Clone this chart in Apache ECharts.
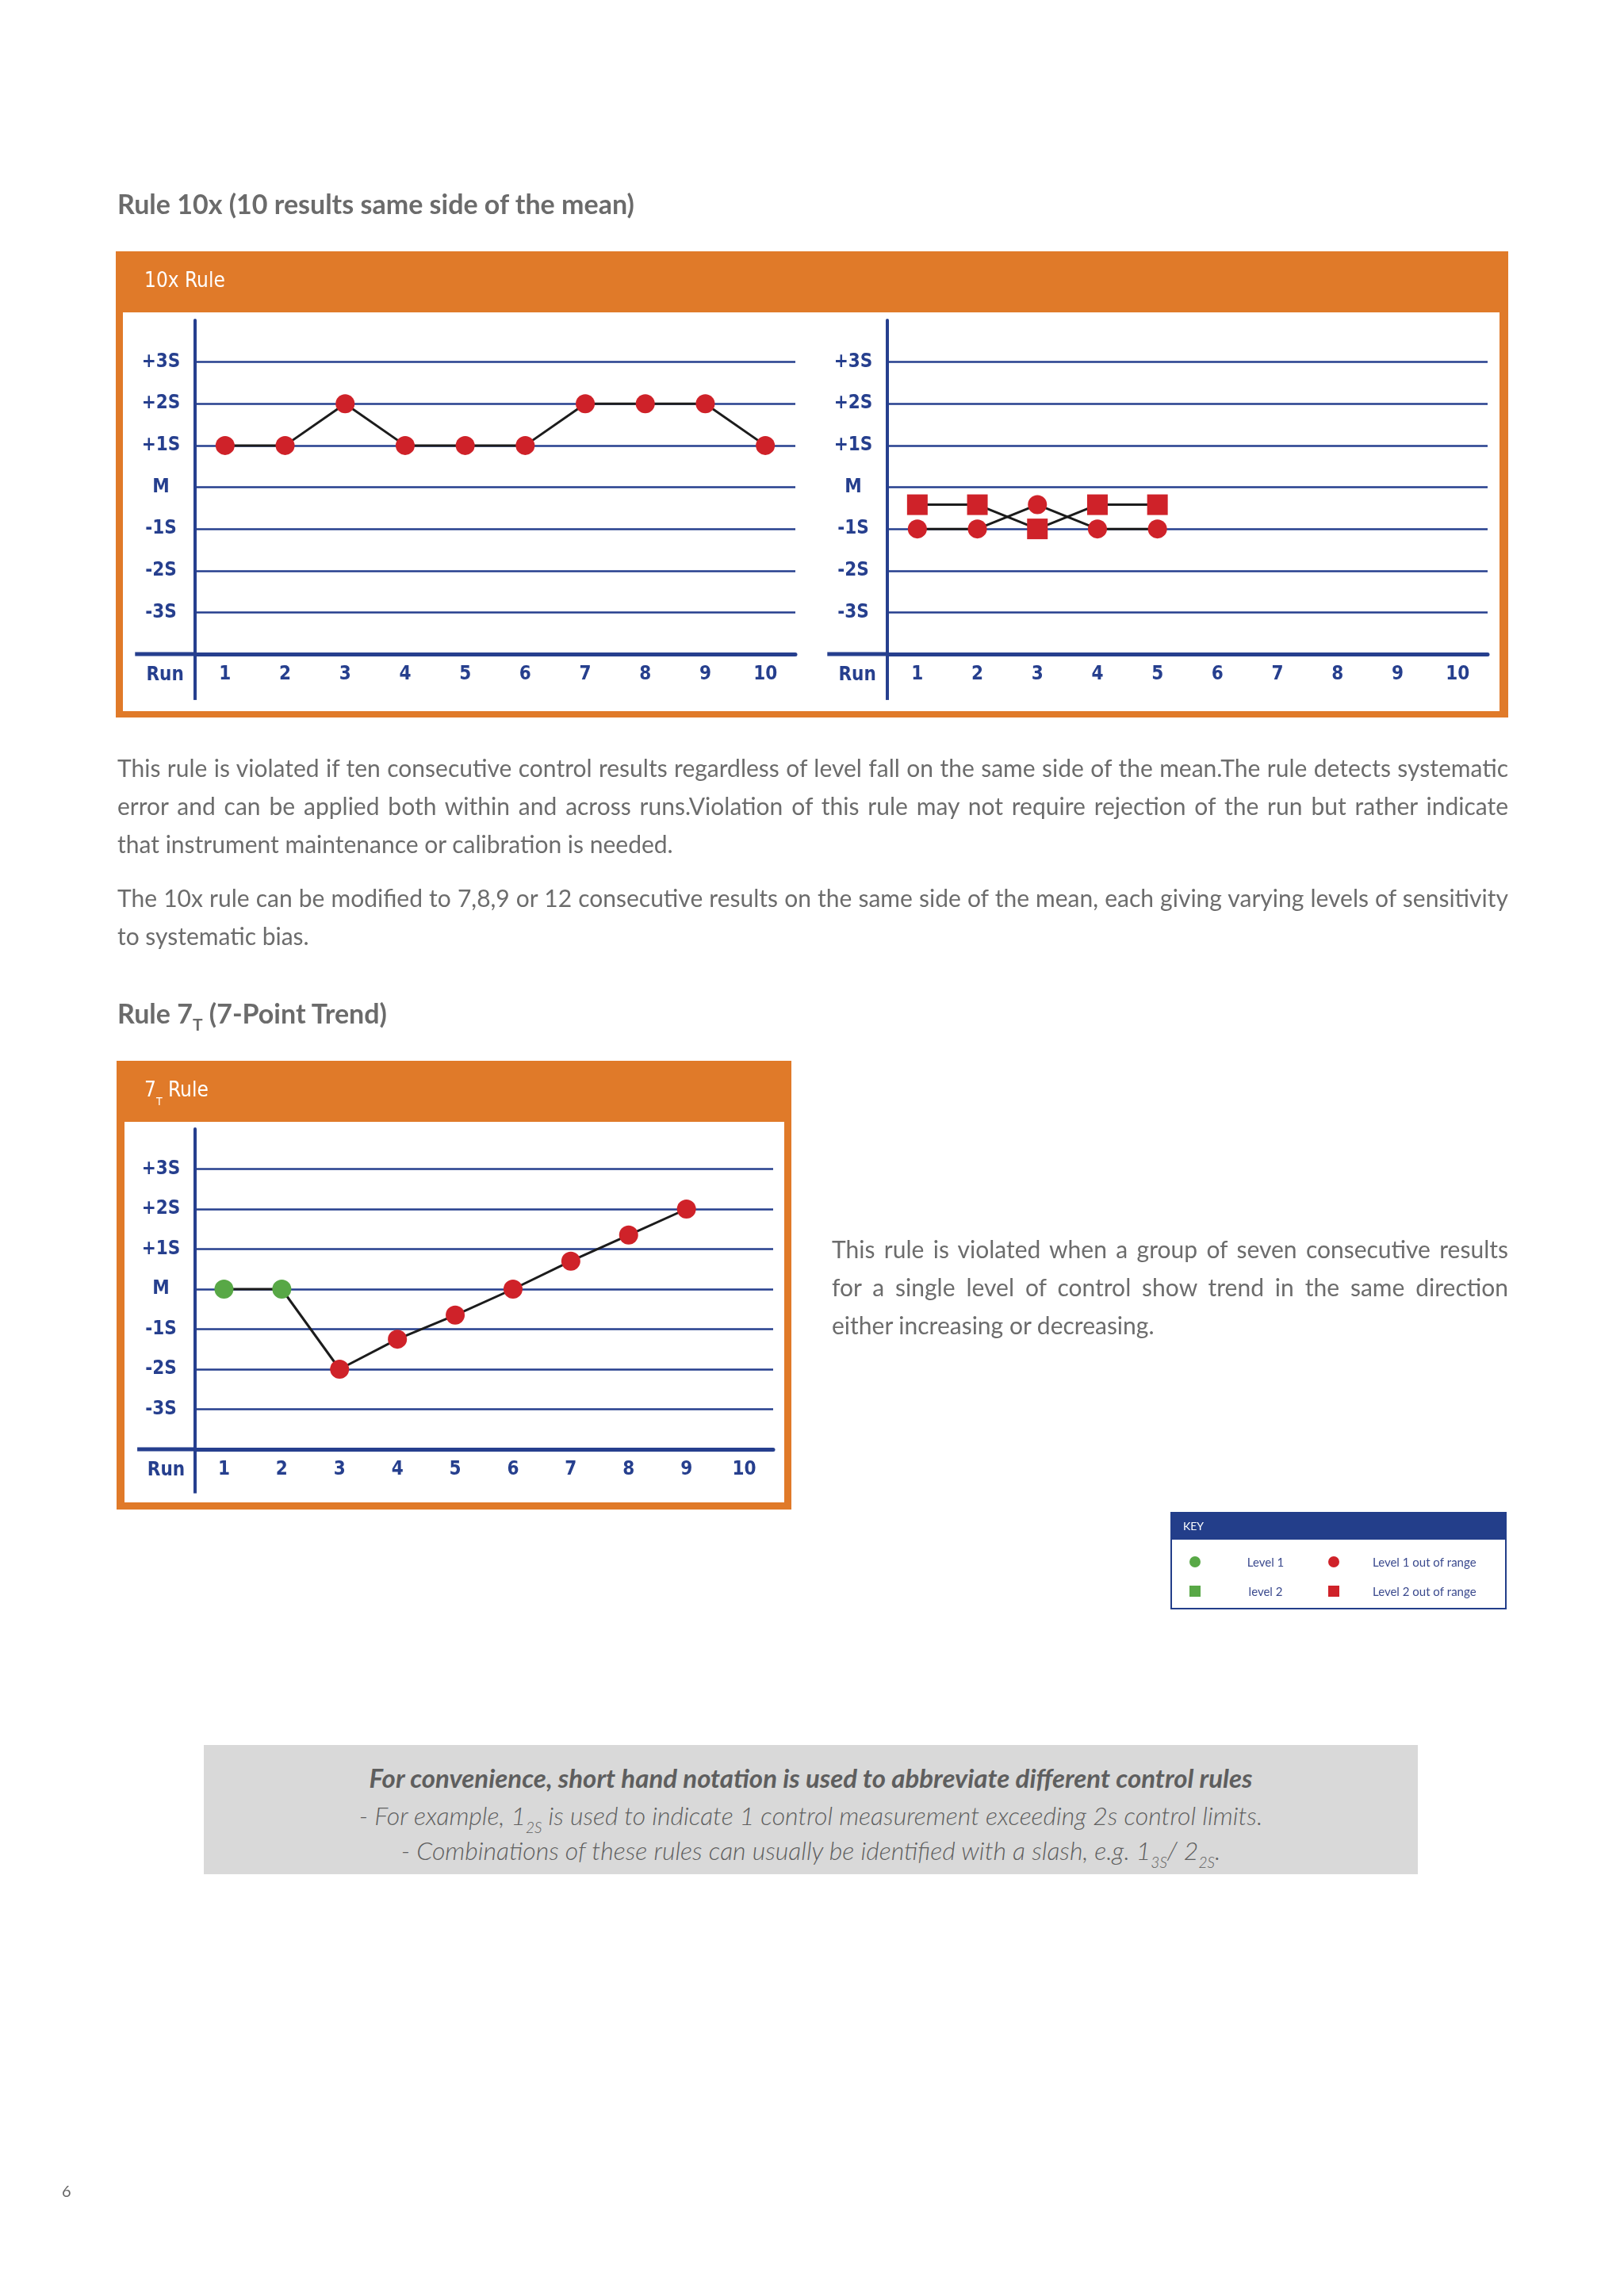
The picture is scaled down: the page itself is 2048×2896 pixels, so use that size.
<!DOCTYPE html>
<html><head><meta charset="utf-8">
<script src="https://cdn.jsdelivr.net/npm/echarts@6.0.0/dist/echarts.min.js"></script>
<style>
html,body{margin:0;padding:0;background:#fff;}
#page{position:relative;width:2048px;height:2896px;overflow:hidden;background:#fff;}
#chart{position:absolute;left:0;top:0;width:2048px;height:2896px;}
.t{position:absolute;white-space:nowrap;font-family:Lato,'Open Sans',sans-serif;color:#6e6e6e;}
.h{font-weight:700;font-size:34px;line-height:40px;color:#6b6b6b;}
.h sub{font-size:21px;vertical-align:-9px;line-height:0;}
.p{font-weight:400;font-size:30px;line-height:48px;color:#6c6c6c;}
.j{text-align:justify;text-align-last:justify;}
#grey{position:absolute;left:257px;top:2201px;width:1531px;height:163px;background:#d9d9d9;}
#grey div{position:absolute;left:0;width:1531px;text-align:center;font-family:Lato,'Open Sans',sans-serif;font-style:italic;line-height:40px;white-space:nowrap;}
#grey .b{font-weight:700;font-size:33px;color:#5e5e5e;}
#grey .l{font-weight:300;font-size:32px;color:#5f5f5f;}
#grey sub{font-size:19px;vertical-align:-10px;line-height:0;}
</style></head>
<body><div id="page">
<div id="chart"></div>

<div class="t h" style="left:148px;top:237px;">Rule 10x (10 results same side of the mean)</div>

<div class="t p j" style="left:148px;top:944px;width:1754px;">This rule is violated if ten consecutive control results regardless of level fall on the same side of the mean.The rule detects systematic</div>
<div class="t p j" style="left:148px;top:992px;width:1754px;">error and can be applied both within and across runs.Violation of this rule may not require rejection of the run but rather indicate</div>
<div class="t p" style="left:148px;top:1040px;">that instrument maintenance or calibration is needed.</div>

<div class="t p j" style="left:148px;top:1108px;width:1754px;">The 10x rule can be modified to 7,8,9 or 12 consecutive results on the same side of the mean, each giving varying levels of sensitivity</div>
<div class="t p" style="left:148px;top:1156px;">to systematic bias.</div>

<div class="t h" style="left:148px;top:1258px;">Rule 7<sub>T</sub> (7-Point Trend)</div>

<div class="t p j" style="left:1049px;top:1551px;width:853px;">This rule is violated when a group of seven consecutive results</div>
<div class="t p j" style="left:1049px;top:1599px;width:853px;">for a single level of control show trend in the same direction</div>
<div class="t p" style="left:1049px;top:1647px;">either increasing or decreasing.</div>

<div id="grey">
  <div class="b" style="top:21px;">For convenience, short hand notation is used to abbreviate different control rules</div>
  <div class="l" style="top:69px;">- For example, 1<sub>2S</sub> is used to indicate 1 control measurement exceeding 2s control limits.</div>
  <div class="l" style="top:113px;">- Combinations of these rules can usually be identified with a slash, e.g. 1<sub>3S</sub>/ 2<sub>2S</sub>.</div>
</div>

<div class="t" style="left:78px;top:2751px;font-size:20px;line-height:24px;color:#666;">6</div>
</div>

<script>
// ---------- data ----------
const runLabels = ['1','2','3','4','5','6','7','8','9','10'];
const sigmaValues = [3, 2, 1, 0, -1, -2, -3];
const sigmaLabels = ['+3S', '+2S', '+1S', 'M', '-1S', '-2S', '-3S'];
const rule10xLevel1 = [1, 1, 2, 1, 1, 1, 2, 2, 2, 1];
const rule10xRightLevel1 = [-1, -1, -0.42, -1, -1];
const rule10xRightLevel2 = [-0.42, -0.42, -1, -0.42, -0.42];
const trend7T = [0, 0, -2, -1.25, -0.65, 0, 0.7, 1.35, 2];
const trend7TInRange = [true, true, false, false, false, false, false, false, false];
const keyLabels = ['Level 1', 'level 2', 'Level 1 out of range', 'Level 2 out of range'];

// ---------- style ----------
const BLUE = '#263f8e', RED = '#cf2229', GREEN = '#58a846', ORANGE = '#e07a29', INK = '#1c1c1c';
const KEYBLUE = '#233e8a', KEYTEXT = '#3b4a8e';
const condFont = "'DejaVu Sans Condensed', 'DejaVu Sans', sans-serif";
const bodyFont = "Lato, 'Open Sans', sans-serif";

const chart = echarts.init(document.getElementById('chart'), null, {renderer: 'canvas'});

function yAxisCfg(gi) {
  return {
    gridIndex: gi, type: 'value', min: -4, max: 4, interval: 1,
    axisLine: {show: true, onZero: false, lineStyle: {color: BLUE, width: 4}},
    axisTick: {show: false},
    splitLine: {show: true, showMinLine: false, showMaxLine: false, lineStyle: {color: BLUE, width: 2.5}},
    axisLabel: {
      margin: 43, align: 'center', fontSize: 24, fontWeight: 'bold', fontFamily: condFont, color: BLUE,
      formatter: v => { const i = sigmaValues.indexOf(v); return i >= 0 ? sigmaLabels[i] : ''; }
    }
  };
}
function xAxisCfg(gi) {
  return {
    gridIndex: gi, type: 'category', data: runLabels, boundaryGap: true,
    axisLine: {show: true, onZero: false, lineStyle: {color: BLUE, width: 5}},
    axisTick: {show: false}, splitLine: {show: false},
    axisLabel: {interval: 0, margin: 14, fontSize: 24, fontWeight: 'bold', fontFamily: condFont, color: BLUE}
  };
}
const lineBase = {type: 'line', lineStyle: {color: INK, width: 3}, z: 3, animation: false, silent: true};

const option = {
  animation: false,
  grid: [
    {left: 246, top: 404, width: 757, height: 421},
    {left: 1119, top: 404, width: 757, height: 421},
    {left: 246, top: 1424, width: 729, height: 404}
  ],
  xAxis: [xAxisCfg(0), xAxisCfg(1), xAxisCfg(2)],
  yAxis: [yAxisCfg(0), yAxisCfg(1), yAxisCfg(2)],
  series: [
    Object.assign({}, lineBase, {name: 'Level 1 out of range', xAxisIndex: 0, yAxisIndex: 0,
      data: rule10xLevel1, symbol: 'circle', symbolSize: 24, itemStyle: {color: RED}}),
    Object.assign({}, lineBase, {name: 'Level 1 out of range', xAxisIndex: 1, yAxisIndex: 1,
      data: rule10xRightLevel1, symbol: 'circle', symbolSize: 24, itemStyle: {color: RED}}),
    Object.assign({}, lineBase, {name: 'Level 2 out of range', xAxisIndex: 1, yAxisIndex: 1,
      data: rule10xRightLevel2, symbol: 'rect', symbolSize: 26, itemStyle: {color: RED}}),
    Object.assign({}, lineBase, {name: 'Level 1', xAxisIndex: 2, yAxisIndex: 2,
      data: trend7T.map((v, i) => ({value: v, itemStyle: {color: trend7TInRange[i] ? GREEN : RED}})),
      symbol: 'circle', symbolSize: 24, itemStyle: {color: RED}})
  ]
};
chart.setOption(option);

// ---------- decorations ----------
const staticEls = [
  // 10x panel
  {type: 'rect', z: -10, shape: {x: 146, y: 317, width: 1756, height: 588}, style: {fill: ORANGE}},
  {type: 'rect', z: -9, shape: {x: 155, y: 394, width: 1736, height: 503}, style: {fill: '#ffffff'}},
  {type: 'text', z: 10, x: 182, y: 355, style: {text: '10x Rule', fill: '#fff', font: "26px " + condFont, verticalAlign: 'middle'}},
  // 7T panel
  {type: 'rect', z: -10, shape: {x: 147, y: 1338, width: 851, height: 566}, style: {fill: ORANGE}},
  {type: 'rect', z: -9, shape: {x: 157, y: 1415, width: 832, height: 480}, style: {fill: '#ffffff'}},
  {type: 'text', z: 10, x: 182, y: 1376, style: {text: '7', fill: '#fff', font: "26px " + condFont, verticalAlign: 'middle'}},
  {type: 'text', z: 10, x: 197, y: 1390, style: {text: 'T', fill: '#fff', font: "14px " + condFont, verticalAlign: 'middle'}},
  {type: 'text', z: 10, x: 212, y: 1376, style: {text: 'Rule', fill: '#fff', font: "26px " + condFont, verticalAlign: 'middle'}},
  // key
  {type: 'rect', z: -10, shape: {x: 1477, y: 1908, width: 422, height: 121}, style: {fill: '#fff', stroke: KEYBLUE, lineWidth: 2}},
  {type: 'rect', z: -9, shape: {x: 1477, y: 1908, width: 422, height: 34}, style: {fill: KEYBLUE}},
  {type: 'text', z: 10, x: 1492, y: 1925, style: {text: 'KEY', fill: '#fff', font: "14px " + bodyFont, verticalAlign: 'middle'}},
  {type: 'circle', z: 10, shape: {cx: 1507, cy: 1970, r: 7}, style: {fill: GREEN}},
  {type: 'rect', z: 10, shape: {x: 1500, y: 2000, width: 14, height: 14}, style: {fill: GREEN}},
  {type: 'circle', z: 10, shape: {cx: 1682, cy: 1970, r: 7}, style: {fill: RED}},
  {type: 'rect', z: 10, shape: {x: 1675, y: 2000, width: 14, height: 14}, style: {fill: RED}},
  {type: 'text', z: 10, x: 1596, y: 1971, style: {text: keyLabels[0], fill: KEYTEXT, font: "15px " + bodyFont, align: 'center', verticalAlign: 'middle'}},
  {type: 'text', z: 10, x: 1596, y: 2008, style: {text: keyLabels[1], fill: KEYTEXT, font: "15px " + bodyFont, align: 'center', verticalAlign: 'middle'}},
  {type: 'text', z: 10, x: 1731, y: 1971, style: {text: keyLabels[2], fill: KEYTEXT, font: "15px " + bodyFont, verticalAlign: 'middle'}},
  {type: 'text', z: 10, x: 1731, y: 2008, style: {text: keyLabels[3], fill: KEYTEXT, font: "15px " + bodyFont, verticalAlign: 'middle'}}
];

function axisExtensions(gi) {
  const a = chart.convertToPixel({gridIndex: gi}, [0, -4]);
  const b = chart.convertToPixel({gridIndex: gi}, [1, -4]);
  const yb = chart.convertToPixel({gridIndex: gi}, [0, -5.1])[1];
  const bw = b[0] - a[0];
  const ax = a[0] - bw / 2, ay = a[1];
  return [
    {type: 'line', z: 5, shape: {x1: ax - bw, y1: ay, x2: ax, y2: ay}, style: {stroke: BLUE, lineWidth: 5}},
    {type: 'line', z: 5, shape: {x1: ax, y1: ay, x2: ax, y2: yb}, style: {stroke: BLUE, lineWidth: 4}},
    {type: 'text', z: 5, x: ax - bw / 2, y: ay + 27, style: {text: 'Run', fill: BLUE, font: "bold 24px " + condFont, align: 'center', verticalAlign: 'middle'}}
  ];
}
const els = staticEls.concat(axisExtensions(0), axisExtensions(1), axisExtensions(2));
chart.setOption({graphic: {elements: els}});
</script>
</body></html>
